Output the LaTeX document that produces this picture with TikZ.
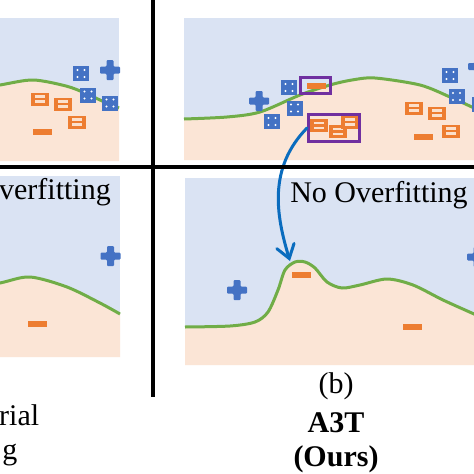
\documentclass[tikz,border=0pt]{standalone}
\usepackage{fontspec}
\setmainfont{Liberation Serif}
\usetikzlibrary{arrows.meta}
\definecolor{bgblue}{HTML}{DAE3F3}
\definecolor{bgpink}{HTML}{FBE5D6}
\definecolor{mgreen}{HTML}{70AD47}
\definecolor{mblue}{HTML}{4472C4}
\definecolor{morange}{HTML}{ED7D31}
\definecolor{obar}{HTML}{FBE0CC}
\definecolor{mpurple}{HTML}{7030A0}
\definecolor{arrblue}{HTML}{0A6CBE}
\tikzset{
  bsq/.pic={\fill[mblue] (-8,-7.5) rectangle (8,7.5);
    \foreach \dx in {-3.5,3.5}{\foreach \dy in {-3.5,3.5}{\fill[white] (\dx,\dy) circle[radius=1.1pt];}}},
  bplus/.pic={\fill[mblue,rounded corners=1pt] (-3.5,-10) -- (3.5,-10) -- (3.5,-3.5) -- (10,-3.5) -- (10,3.5) -- (3.5,3.5) -- (3.5,10) -- (-3.5,10) -- (-3.5,3.5) -- (-10,3.5) -- (-10,-3.5) -- (-3.5,-3.5) -- cycle;},
  obox/.pic={\fill[morange] (-9,-6.5) rectangle (9,6.5);
    \fill[obar] (-5,-3.9) rectangle (5,-1.4);
    \fill[obar] (-5,1.4) rectangle (5,3.9);},
  ominus/.pic={\fill[morange] (-9.5,-3) rectangle (9.5,3);},
  boundary/.style={draw=mgreen, line width=3pt},
  framerule/.style={line width=3.5pt, black},
  selbox/.style={draw=mpurple, line width=3pt, inner sep=0pt},
  lbl/.style={font=\fontsize{30}{36}\selectfont, inner sep=0pt},
  pointer/.style={draw=arrblue, line width=3pt, line cap=round, -{Straight Barb[length=13pt,width=18pt,line cap=round]}}
}
\begin{document}
\begin{tikzpicture}[x=1pt,y=-1pt]
\useasboundingbox (0,0) rectangle (474,474);
\clip (0,0) rectangle (474,474);
\fill[white] (0,0) rectangle (474,474);

% ---------- top-left panel ----------
\fill[bgblue] (-200,18) rectangle (119,161);
\fill[bgpink] plot[smooth] coordinates {(-40,92) (0,85) (33,80) (66,86) (85,93) (100,100) (119,108)} -- (119,161) -- (-200,161) -- (-200,92) -- cycle;
\draw[boundary] plot[smooth] coordinates {(-40,92) (0,85) (33,80) (66,86) (85,93) (100,100) (119,108)};
\pic at (81,73.5) {bsq};
\pic at (88,95) {bsq};
\pic at (110,103) {bsq};
\pic at (110,70) {bplus};
\pic at (40,99) {obox};
\pic at (63,104) {obox};
\pic at (77,122) {obox};
\pic at (42,132) {ominus};

% ---------- top-right panel ----------
\fill[bgblue] (184,18) rectangle (480,160);
\fill[bgpink] plot[smooth] coordinates {(184,119) (227,117) (260,112) (300,95) (330,85) (352,80) (375,78) (420,85) (450,97) (474,108) (480,111)} -- (480,160) -- (184,160) -- cycle;
\draw[boundary] plot[smooth] coordinates {(184,119) (227,117) (260,112) (300,95) (330,85) (352,80) (375,78) (420,85) (450,97) (474,108) (480,111)};
\pic at (259,101) {bplus};
\pic at (289,87.5) {bsq};
\pic at (294.5,108) {bsq};
\pic at (272,121.5) {bsq};
\pic at (316,85.5) {ominus};
\pic at (319,125.5) {obox};
\pic at (338,131.5) {obox};
\pic at (350,122) {obox};
\pic at (450,75.5) {bsq};
\pic at (456.5,96.5) {bsq};
\pic at (478,66.5) {bplus};
\pic at (480,104.5) {bsq};
\pic at (414,108) {obox};
\pic at (437,113) {obox};
\pic at (451,131) {obox};
\pic at (423.5,137) {ominus};
\node[selbox, minimum width=30pt, minimum height=16pt] (selA) at (315.5,85.5) {};
\node[selbox, minimum width=51pt, minimum height=27pt] (selB) at (334,128) {};

% ---------- bottom-left panel ----------
\fill[bgblue] (-200,176) rectangle (120,357);
\fill[bgpink] plot[smooth] coordinates {(-40,291) (0,283) (30,277) (67,287) (100,303) (120,314)} -- (120,357) -- (-200,357) -- (-200,291) -- cycle;
\draw[boundary] plot[smooth] coordinates {(-40,291) (0,283) (30,277) (67,287) (100,303) (120,314)};
\pic at (110.5,256) {bplus};
\pic at (37,324) {ominus};
\node[lbl, anchor=base east] (ovL) at (111,199) {verfitting};

% ---------- bottom-right panel ----------
\fill[bgblue] (185,178) rectangle (480,365);
\fill[bgpink] plot[smooth] coordinates {(185,327) (230,326) (255,322) (268,312) (278,290) (285,270) (295,262) (305,262) (315,268) (327,282) (342,288) (360,285) (387,279) (413,285) (443,300) (474,314) (480,317)} -- (480,365) -- (185,365) -- cycle;
\draw[boundary] plot[smooth] coordinates {(185,327) (230,326) (255,322) (268,312) (278,290) (285,270) (295,262) (305,262) (315,268) (327,282) (342,288) (360,285) (387,279) (413,285) (443,300) (474,314) (480,317)};
\pic at (237,290) {bplus};
\pic at (301,274.5) {ominus};
\pic at (412,326.5) {ominus};
\pic at (477,257) {bplus};
\node[lbl, anchor=base] (noov) at (379,202) {No Overfitting};
\coordinate (peaktip) at (290,261);

% ---------- arrow ----------
\draw[pointer] (selB.west) .. controls (268,168) and (276,215) .. (peaktip);

% ---------- frame rules ----------
\draw[framerule] (0,167) -- (474,167);
\draw[framerule] (153,0) -- (153,397);

% ---------- captions ----------
\node[lbl, anchor=base] (capb) at (336,393) {(b)};
\node[lbl, anchor=base] (a3t) at (336,432) {\textbf{A3T}};
\node[lbl, anchor=base] (ours) at (336,466) {\textbf{(Ours)}};
\node[lbl, anchor=base west] (advl) at (-1,425) {rial};
\node[lbl, anchor=base east] (trn) at (17.5,459) {g};
\end{tikzpicture}
\end{document}
